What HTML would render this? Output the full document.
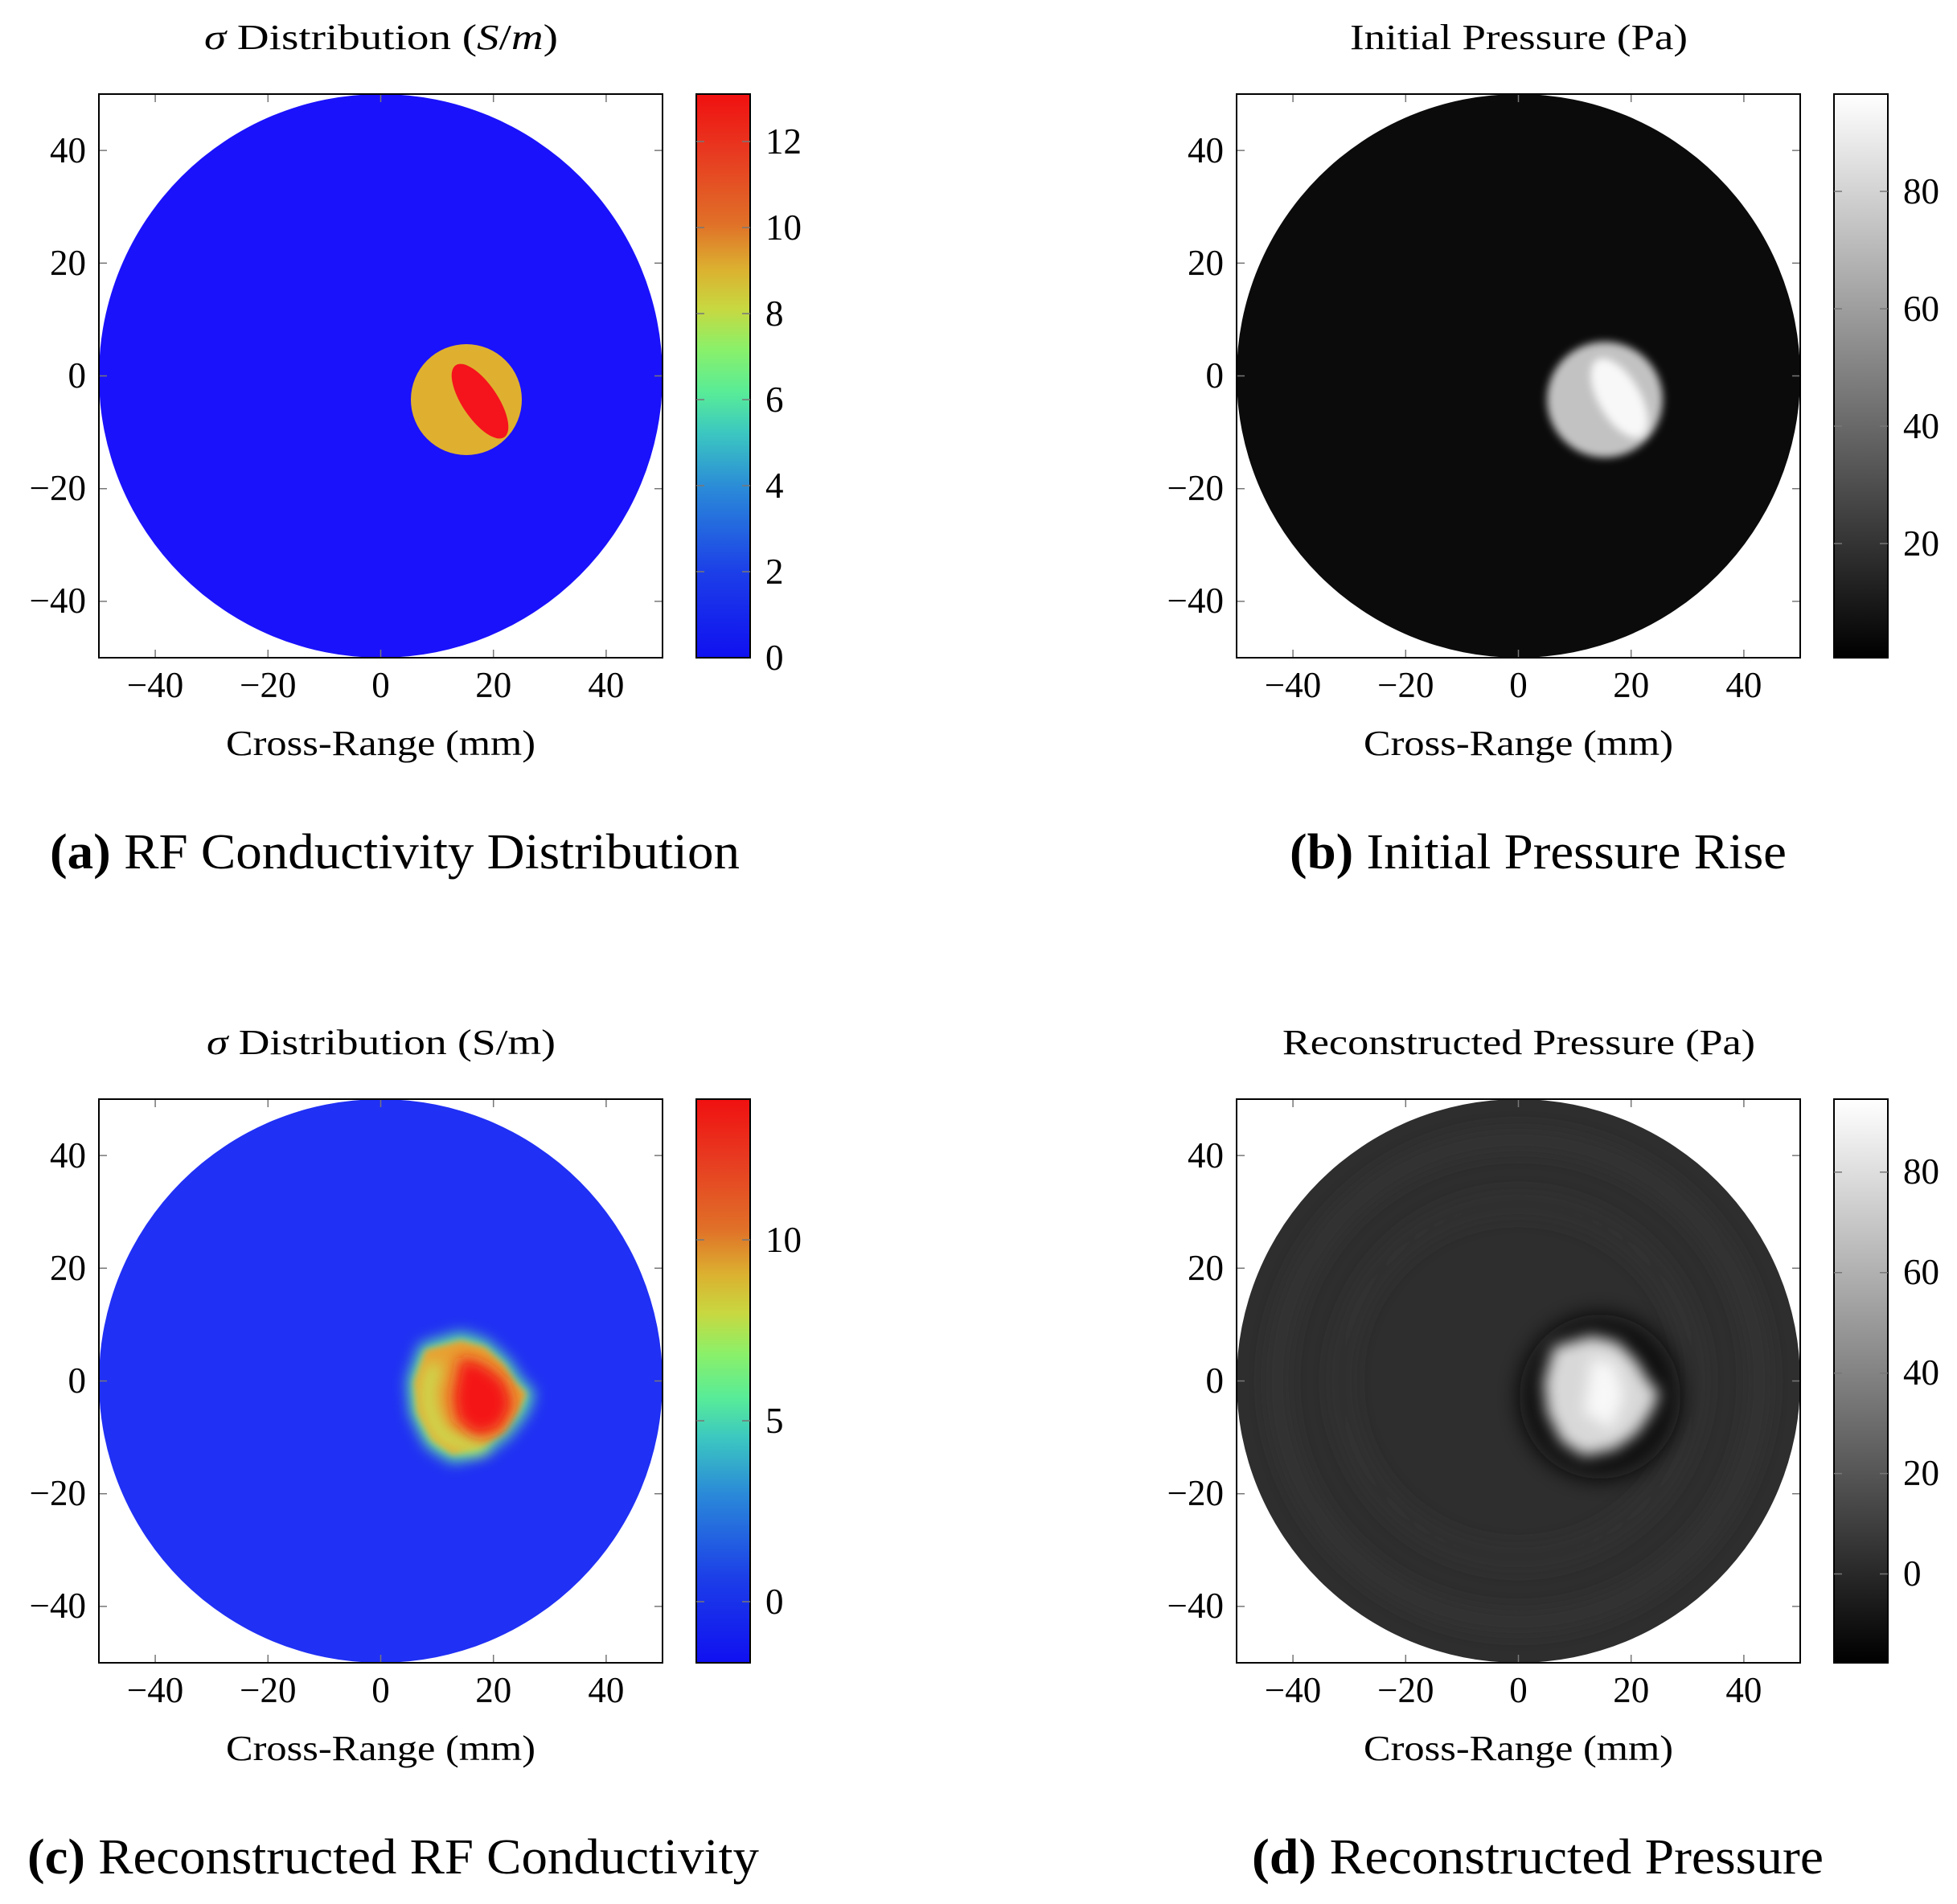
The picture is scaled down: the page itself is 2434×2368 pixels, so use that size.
<!DOCTYPE html>
<html><head><meta charset="utf-8"><style>
html,body{margin:0;padding:0;background:#fff}
svg{display:block}
text{font-family:"Liberation Serif",serif;fill:#000}
.t{font-size:45px}
.ti{font-size:44px}
.cap{font-size:62px}
</style></head><body>
<svg width="2434" height="2368" viewBox="0 0 2434 2368" xmlns="http://www.w3.org/2000/svg">
<defs>
<clipPath id="cc"><circle cx="350.5" cy="350.5" r="350.5"/></clipPath>
<filter id="b3" x="-50%" y="-50%" width="200%" height="200%"><feGaussianBlur stdDeviation="4"/></filter>
<filter id="b5" x="-50%" y="-50%" width="200%" height="200%"><feGaussianBlur stdDeviation="5"/></filter>
<filter id="b8" x="-50%" y="-50%" width="200%" height="200%"><feGaussianBlur stdDeviation="9"/></filter>
<filter id="b14" x="-50%" y="-50%" width="200%" height="200%"><feGaussianBlur stdDeviation="14"/></filter>
<linearGradient id="jetA" x1="0" y1="1" x2="0" y2="0">
<stop offset="0" stop-color="#1010f0"/><stop offset="0.15" stop-color="#1c3ee8"/><stop offset="0.3" stop-color="#2a8ad8"/><stop offset="0.4" stop-color="#3cc8c0"/><stop offset="0.47" stop-color="#58ec98"/><stop offset="0.55" stop-color="#8cf068"/><stop offset="0.62" stop-color="#c8d840"/><stop offset="0.69" stop-color="#dcb030"/><stop offset="0.77" stop-color="#e07028"/><stop offset="0.9" stop-color="#e83820"/><stop offset="1" stop-color="#f01010"/>
</linearGradient>
<linearGradient id="gray" x1="0" y1="1" x2="0" y2="0"><stop offset="0" stop-color="#000"/><stop offset="1" stop-color="#fff"/></linearGradient>
</defs>

<!-- ===== Panel a ===== -->
<g transform="translate(123,117)">
<rect width="701" height="701" fill="#fff"/>
<circle cx="350.5" cy="350.5" r="350.5" fill="#1a12fa"/>
<circle cx="457" cy="380" r="69" fill="#dfb030"/>
<ellipse cx="474" cy="382" rx="22" ry="54" fill="#f5141c" transform="rotate(-34 474 382)"/>
<g stroke="#777" stroke-width="1.5">
<path d="M70.1 0v10M210.3 0v10M350.5 0v10M490.7 0v10M630.9 0v10M70.1 701v-10M210.3 701v-10M350.5 701v-10M490.7 701v-10M630.9 701v-10M0 70.1h10M0 210.3h10M0 350.5h10M0 490.7h10M0 630.9h10M701 70.1h-10M701 210.3h-10M701 350.5h-10M701 490.7h-10M701 630.9h-10"/>
</g>
<rect width="701" height="701" fill="none" stroke="#000" stroke-width="2"/>
<g class="t" text-anchor="end"><text x="-16" y="85">40</text><text x="-16" y="225">20</text><text x="-16" y="365">0</text><text x="-16" y="505">−20</text><text x="-16" y="645">−40</text></g>
<g class="t" text-anchor="middle"><text x="70.1" y="750">−40</text><text x="210.3" y="750">−20</text><text x="350.5" y="750">0</text><text x="490.7" y="750">20</text><text x="630.9" y="750">40</text></g>
<text class="ti" x="158" y="822" textLength="385" lengthAdjust="spacingAndGlyphs">Cross-Range (mm)</text>
<text class="ti" x="131" y="-56" textLength="440" lengthAdjust="spacingAndGlyphs"><tspan font-style="italic">σ</tspan> Distribution (<tspan font-style="italic">S</tspan>/<tspan font-style="italic">m</tspan>)</text>
<rect x="743" y="0" width="67" height="701" fill="url(#jetA)" stroke="#000" stroke-width="2"/>
<g stroke="#777" stroke-width="1.5"><path d="M743 594h10M743 487h10M743 380h10M743 273h10M743 166h10M743 59h10M810 594h-10M810 487h-10M810 380h-10M810 273h-10M810 166h-10M810 59h-10"/></g>
<g class="t"><text x="829" y="716">0</text><text x="829" y="609">2</text><text x="829" y="502">4</text><text x="829" y="395">6</text><text x="829" y="288">8</text><text x="829" y="181">10</text><text x="829" y="74">12</text></g>
<text class="cap" x="-61" y="963" textLength="858" lengthAdjust="spacingAndGlyphs"><tspan font-weight="bold">(a)</tspan> RF Conductivity Distribution</text>
</g>

<!-- ===== Panel b ===== -->
<g transform="translate(1538,117)">
<rect width="701" height="701" fill="#fff"/>
<circle cx="350.5" cy="350.5" r="350.5" fill="#0b0b0b"/>
<g clip-path="url(#cc)">
<circle cx="458" cy="380" r="72" fill="#c2c2c2" filter="url(#b5)"/>
<ellipse cx="476" cy="378" rx="26" ry="55" fill="#f8f8f8" transform="rotate(-30 476 378)" filter="url(#b5)"/>
</g>
<g stroke="#777" stroke-width="1.5">
<path d="M70.1 0v10M210.3 0v10M350.5 0v10M490.7 0v10M630.9 0v10M70.1 701v-10M210.3 701v-10M350.5 701v-10M490.7 701v-10M630.9 701v-10M0 70.1h10M0 210.3h10M0 350.5h10M0 490.7h10M0 630.9h10M701 70.1h-10M701 210.3h-10M701 350.5h-10M701 490.7h-10M701 630.9h-10"/>
</g>
<rect width="701" height="701" fill="none" stroke="#000" stroke-width="2"/>
<g class="t" text-anchor="end"><text x="-16" y="85">40</text><text x="-16" y="225">20</text><text x="-16" y="365">0</text><text x="-16" y="505">−20</text><text x="-16" y="645">−40</text></g>
<g class="t" text-anchor="middle"><text x="70.1" y="750">−40</text><text x="210.3" y="750">−20</text><text x="350.5" y="750">0</text><text x="490.7" y="750">20</text><text x="630.9" y="750">40</text></g>
<text class="ti" x="158" y="822" textLength="385" lengthAdjust="spacingAndGlyphs">Cross-Range (mm)</text>
<text class="ti" x="141" y="-56" textLength="420" lengthAdjust="spacingAndGlyphs">Initial Pressure (Pa)</text>
<rect x="743" y="0" width="67" height="701" fill="url(#gray)" stroke="#000" stroke-width="2"/>
<g stroke="#777" stroke-width="1.5"><path d="M743 559h10M743 413h10M743 267h10M743 121h10M810 559h-10M810 413h-10M810 267h-10M810 121h-10"/></g>
<g class="t"><text x="829" y="574">20</text><text x="829" y="428">40</text><text x="829" y="282">60</text><text x="829" y="136">80</text></g>
<text class="cap" x="66" y="963" textLength="618" lengthAdjust="spacingAndGlyphs"><tspan font-weight="bold">(b)</tspan> Initial Pressure Rise</text>
</g>

<!-- ===== Panel c ===== -->
<g transform="translate(123,1367)">
<rect width="701" height="701" fill="#fff"/>
<circle cx="350.5" cy="350.5" r="350.5" fill="#2030f4"/>
<g clip-path="url(#cc)">
<g transform="translate(460,370)">
<polygon points="-60,-65 -10,-80 22,-70 50,-45 66,-20 82,-5 72,22 50,50 20,72 -20,82 -52,62 -72,22 -76,-20" fill="#60e8a0" filter="url(#b8)"/>
<polygon points="-54,-58 -10,-70 20,-62 44,-40 58,-18 72,-4 62,18 44,44 18,62 -20,72 -46,54 -64,20 -68,-18" fill="#e8a030" filter="url(#b3)"/>
<path d="M-40,-40 C-60,-10 -50,30 -30,50 C-10,60 10,62 20,58" stroke="#c8e050" stroke-width="18" fill="none" filter="url(#b8)"/>
<polygon points="-10,-50 20,-40 45,-20 55,10 40,40 10,50 -15,30 -20,0" fill="#f41818" filter="url(#b8)"/>
</g>
</g>
<g stroke="#777" stroke-width="1.5">
<path d="M70.1 0v10M210.3 0v10M350.5 0v10M490.7 0v10M630.9 0v10M70.1 701v-10M210.3 701v-10M350.5 701v-10M490.7 701v-10M630.9 701v-10M0 70.1h10M0 210.3h10M0 350.5h10M0 490.7h10M0 630.9h10M701 70.1h-10M701 210.3h-10M701 350.5h-10M701 490.7h-10M701 630.9h-10"/>
</g>
<rect width="701" height="701" fill="none" stroke="#000" stroke-width="2"/>
<g class="t" text-anchor="end"><text x="-16" y="85">40</text><text x="-16" y="225">20</text><text x="-16" y="365">0</text><text x="-16" y="505">−20</text><text x="-16" y="645">−40</text></g>
<g class="t" text-anchor="middle"><text x="70.1" y="750">−40</text><text x="210.3" y="750">−20</text><text x="350.5" y="750">0</text><text x="490.7" y="750">20</text><text x="630.9" y="750">40</text></g>
<text class="ti" x="158" y="822" textLength="385" lengthAdjust="spacingAndGlyphs">Cross-Range (mm)</text>
<text class="ti" x="134" y="-56" textLength="434" lengthAdjust="spacingAndGlyphs"><tspan font-style="italic">σ</tspan> Distribution (S/m)</text>
<rect x="743" y="0" width="67" height="701" fill="url(#jetA)" stroke="#000" stroke-width="2"/>
<g stroke="#777" stroke-width="1.5"><path d="M743 625h10M743 400h10M743 175h10M810 625h-10M810 400h-10M810 175h-10"/></g>
<g class="t"><text x="829" y="640">0</text><text x="829" y="415">5</text><text x="829" y="190">10</text></g>
<text class="cap" x="-89" y="963" textLength="910" lengthAdjust="spacingAndGlyphs"><tspan font-weight="bold">(c)</tspan> Reconstructed RF Conductivity</text>
</g>

<!-- ===== Panel d ===== -->
<g transform="translate(1538,1367)">
<rect width="701" height="701" fill="#fff"/>
<circle cx="350.5" cy="350.5" r="350.5" fill="#2e2e2e"/>
<g clip-path="url(#cc)">
<circle cx="350.5" cy="350.5" r="300" fill="none" stroke="#383838" stroke-width="14" filter="url(#b14)"/>
<circle cx="350.5" cy="350.5" r="220" fill="none" stroke="#363636" stroke-width="14" filter="url(#b14)"/>
<g transform="translate(452,370)">
<ellipse cx="0" cy="0" rx="100" ry="102" fill="#101010" filter="url(#b14)"/>
<polygon points="-58,-62 -10,-76 22,-68 46,-44 60,-20 74,-4 64,20 46,46 18,66 -20,74 -48,56 -66,20 -70,-18" fill="#d8d8d8" filter="url(#b8)"/>
<polygon points="-10,-48 18,-40 30,0 14,40 -20,20" fill="#f8f8f8" filter="url(#b8)"/>
</g>
</g>
<g stroke="#777" stroke-width="1.5">
<path d="M70.1 0v10M210.3 0v10M350.5 0v10M490.7 0v10M630.9 0v10M70.1 701v-10M210.3 701v-10M350.5 701v-10M490.7 701v-10M630.9 701v-10M0 70.1h10M0 210.3h10M0 350.5h10M0 490.7h10M0 630.9h10M701 70.1h-10M701 210.3h-10M701 350.5h-10M701 490.7h-10M701 630.9h-10"/>
</g>
<rect width="701" height="701" fill="none" stroke="#000" stroke-width="2"/>
<g class="t" text-anchor="end"><text x="-16" y="85">40</text><text x="-16" y="225">20</text><text x="-16" y="365">0</text><text x="-16" y="505">−20</text><text x="-16" y="645">−40</text></g>
<g class="t" text-anchor="middle"><text x="70.1" y="750">−40</text><text x="210.3" y="750">−20</text><text x="350.5" y="750">0</text><text x="490.7" y="750">20</text><text x="630.9" y="750">40</text></g>
<text class="ti" x="158" y="822" textLength="385" lengthAdjust="spacingAndGlyphs">Cross-Range (mm)</text>
<text class="ti" x="57" y="-56" textLength="588" lengthAdjust="spacingAndGlyphs">Reconstructed Pressure (Pa)</text>
<rect x="743" y="0" width="67" height="701" fill="url(#gray)" stroke="#000" stroke-width="2"/>
<g stroke="#777" stroke-width="1.5"><path d="M743 590.5h10M743 465.6h10M743 340.7h10M743 215.7h10M743 90.8h10M810 590.5h-10M810 465.6h-10M810 340.7h-10M810 215.7h-10M810 90.8h-10"/></g>
<g class="t"><text x="829" y="605">0</text><text x="829" y="480">20</text><text x="829" y="355">40</text><text x="829" y="230">60</text><text x="829" y="105">80</text></g>
<text class="cap" x="19" y="963" textLength="711" lengthAdjust="spacingAndGlyphs"><tspan font-weight="bold">(d)</tspan> Reconstructed Pressure</text>
</g>
</svg>
</body></html>
